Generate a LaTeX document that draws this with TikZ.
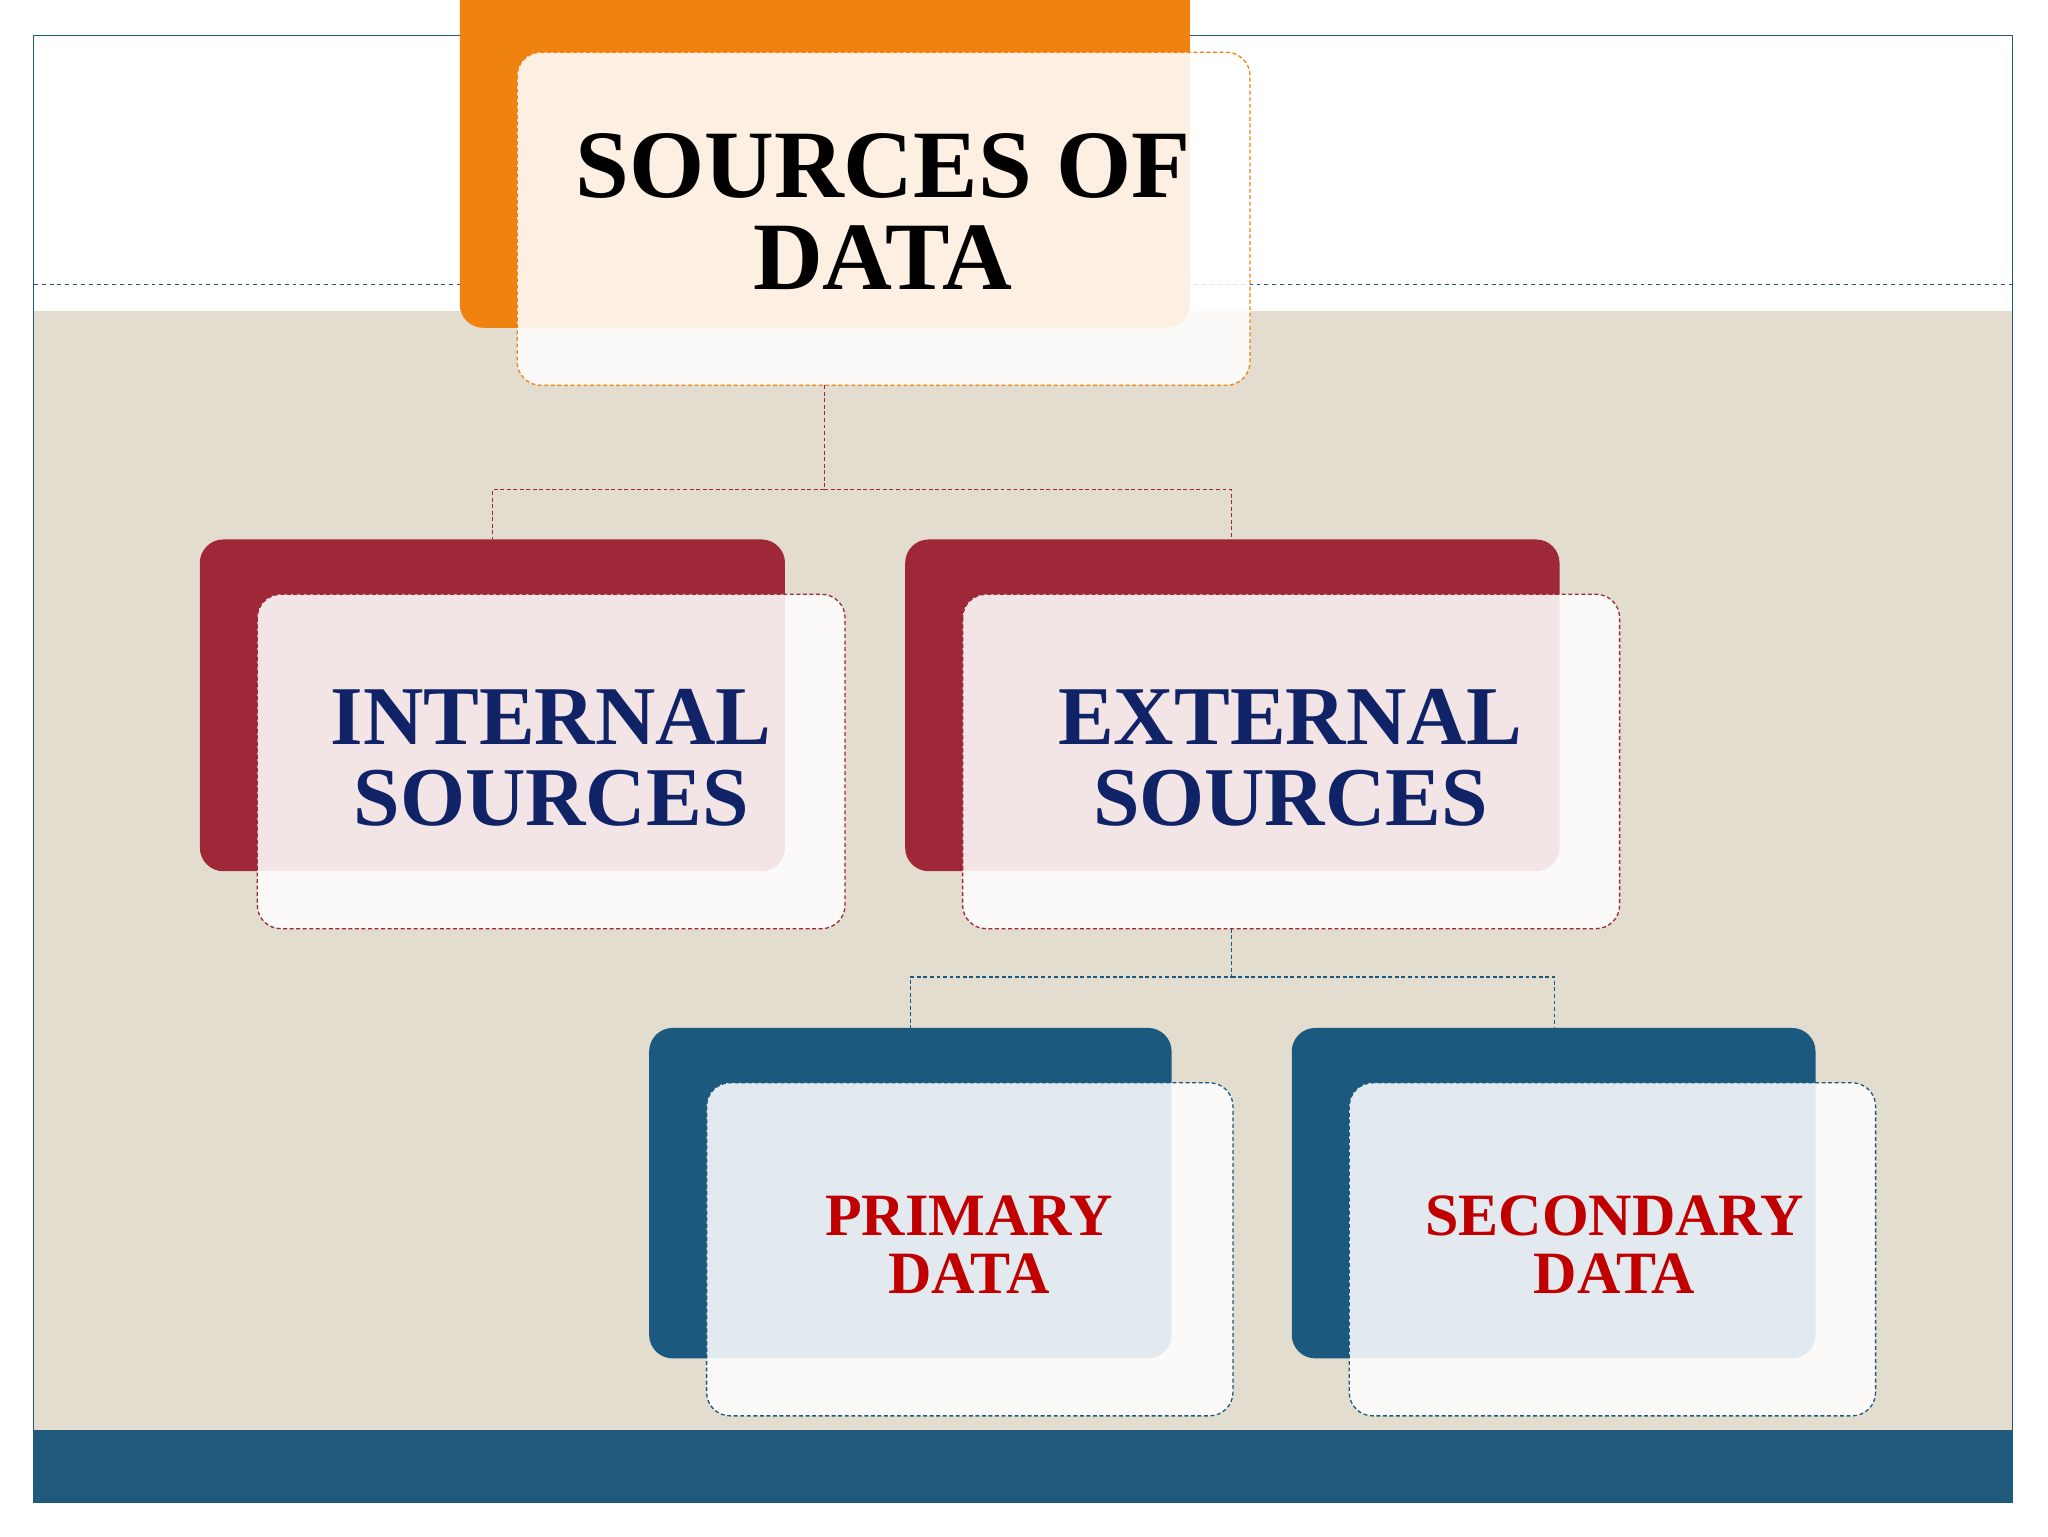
\documentclass[tikz,border=0pt]{standalone}
\usepackage{fontspec}
\setmainfont{Liberation Serif}
\definecolor{beige}{HTML}{E3DDD0}
\definecolor{navybar}{HTML}{1F5A7C}
\definecolor{orng}{HTML}{F0820F}
\definecolor{wine}{HTML}{9E2837}
\definecolor{teal}{HTML}{1B5A7E}
\definecolor{navytxt}{HTML}{0F2366}
\definecolor{redtxt}{HTML}{C00000}
\begin{document}
\begin{tikzpicture}[x=1pt,y=-1pt,
 back/.style={rounded corners=18pt},
 front/.style={rounded corners=18pt,fill=white,fill opacity=0.88,densely dashed,line width=1pt},
 conn/.style={densely dashed,line width=1pt},
 lbl/.style={align=center,font=\bfseries,inner sep=0pt}]
\useasboundingbox (0,0) rectangle (1568,1176);
\fill[white] (0,0) rectangle (1568,1176);
\fill[beige] (26,238) rectangle (1541,1095);
\fill[navybar] (26,1095) rectangle (1541,1150);
\draw[navybar,line width=0.8pt] (26,27) rectangle (1541,1150);
\draw[navybar,dashed,line width=0.8pt] (26,218) -- (1541,218);
% top
\fill[orng,back] (352,-20) rectangle (911,251);
\draw[orng,front] (396,40) rectangle (957,295);
\node[lbl,text=black,font=\bfseries\fontsize{74}{70}\selectfont] (top) at (676,162) {SOURCES OF\\DATA};
\coordinate (topb) at (631,295);
% internal / external
\fill[wine,back] (153,413) rectangle (601,667);
\draw[wine,front] (197,455) rectangle (647,711);
\node[lbl,text=navytxt,font=\bfseries\fontsize{64}{62}\selectfont] (int) at (422,580) {INTERNAL\\SOURCES};
\fill[wine,back] (693,413) rectangle (1194,667);
\draw[wine,front] (737,455) rectangle (1240,711);
\node[lbl,text=navytxt,font=\bfseries\fontsize{64}{62}\selectfont] (ext) at (988,580) {EXTERNAL\\SOURCES};
\coordinate (intt) at (377,413); \coordinate (extt) at (943,413);
\draw[wine,conn] (topb) -- (631,375) -- (377,375) -- (intt);
\draw[wine,conn] (631,375) -- (943,375) -- (extt);
% primary / secondary
\fill[teal,back] (497,787) rectangle (897,1040);
\draw[teal,front] (541,829) rectangle (944,1084);
\node[lbl,text=redtxt,font=\bfseries\fontsize{46}{44}\selectfont] (pri) at (742,953) {PRIMARY\\DATA};
\fill[teal,back] (989,787) rectangle (1390,1040);
\draw[teal,front] (1033,829) rectangle (1436,1084);
\node[lbl,text=redtxt,font=\bfseries\fontsize{46}{44}\selectfont] (sec) at (1236,953) {SECONDARY\\DATA};
\coordinate (extb) at (943,711); \coordinate (prit) at (697,787); \coordinate (sect) at (1190,787);
\draw[teal,conn] (extb) -- (943,748) -- (697,748) -- (prit);
\draw[teal,conn] (943,748) -- (1190,748) -- (sect);
\end{tikzpicture}
\end{document}
